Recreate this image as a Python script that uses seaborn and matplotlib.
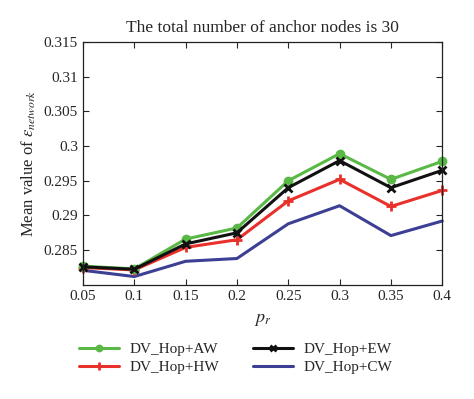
import matplotlib
matplotlib.use("Agg")
import matplotlib.pyplot as plt
import seaborn as sns
import pandas as pd
from matplotlib.ticker import FuncFormatter

pr = [0.05, 0.1, 0.15, 0.2, 0.25, 0.3, 0.35, 0.4]
aw = [0.2827, 0.2823, 0.2866, 0.2882, 0.2950, 0.2989, 0.2952, 0.2978]
ew = [0.2826, 0.28225, 0.2859, 0.2875, 0.2940, 0.2979, 0.2940, 0.2965]
hw = [0.2825, 0.28215, 0.2854, 0.2865, 0.2921, 0.2952, 0.2913, 0.2936]
cw = [0.2821, 0.2812, 0.2834, 0.2838, 0.2888, 0.2914, 0.2871, 0.2892]
series_names = ["DV_Hop+AW", "DV_Hop+HW", "DV_Hop+EW", "DV_Hop+CW"]

sns.set_style("ticks")
plt.rcParams['font.family'] = ['Liberation Serif', 'DejaVu Serif']
plt.rcParams['mathtext.fontset'] = 'stix'

df = pd.DataFrame({"pr": pr * 4,
                   "val": aw + hw + ew + cw,
                   "series": sum([[n] * len(pr) for n in series_names], [])})

fig = plt.figure(figsize=(4.74, 3.99), dpi=100)
ax = fig.add_axes([0.175, 0.286, 0.758, 0.609])

colors = {"DV_Hop+AW": "#5ab946", "DV_Hop+HW": "#e8312a",
          "DV_Hop+EW": "#111111", "DV_Hop+CW": "#3d3f94"}
markers = {"DV_Hop+AW": "o", "DV_Hop+HW": "+", "DV_Hop+EW": "x", "DV_Hop+CW": ""}
msizes = {"DV_Hop+AW": 7, "DV_Hop+HW": 7, "DV_Hop+EW": 5.5, "DV_Hop+CW": 0}
order_draw = ["DV_Hop+CW", "DV_Hop+HW", "DV_Hop+AW", "DV_Hop+EW"]
for name in order_draw:
    sub = df[df.series == name]
    kw = {}
    if markers[name]:
        kw = dict(marker=markers[name], markersize=msizes[name],
                  markeredgewidth=2.0 if name != "DV_Hop+AW" else 0,
                  markeredgecolor=colors[name], markerfacecolor=colors[name])
    sns.lineplot(data=sub, x="pr", y="val", ax=ax, color=colors[name],
                 linewidth=2.2, label=name, legend=False, clip_on=False, **kw)

ax.set_xlim(0.05, 0.4)
ax.set_ylim(0.28, 0.315)
ax.set_xticks(pr)
ax.set_yticks([0.285, 0.29, 0.295, 0.3, 0.305, 0.31, 0.315])
fmt = FuncFormatter(lambda v, p: f"{v:g}")
ax.xaxis.set_major_formatter(fmt)
ax.yaxis.set_major_formatter(fmt)
ax.tick_params(direction="in", top=True, right=True, labelsize=11, length=4, width=0.8)
for s in ax.spines.values():
    s.set_linewidth(0.9)
    s.set_color("#222222")

ax.set_xlabel("$p_r$", fontsize=13, labelpad=6)
ax.set_ylabel("Mean value of $\\varepsilon_{network}$", fontsize=12, labelpad=4)
ax.set_title("The total number of anchor nodes is 30", fontsize=12.5, pad=7)

handles, labels = ax.get_legend_handles_labels()
hmap = dict(zip(labels, handles))
leg_order = ["DV_Hop+AW", "DV_Hop+HW", "DV_Hop+EW", "DV_Hop+CW"]
fig.legend([hmap[n] for n in leg_order], leg_order, ncol=2, frameon=False,
           loc="center", bbox_to_anchor=(0.497, 0.102), fontsize=11,
           handlelength=2.6, columnspacing=2.2, labelspacing=0.3,
           handletextpad=0.7, markerscale=0.8)

fig.savefig("out.png", dpi=100)
